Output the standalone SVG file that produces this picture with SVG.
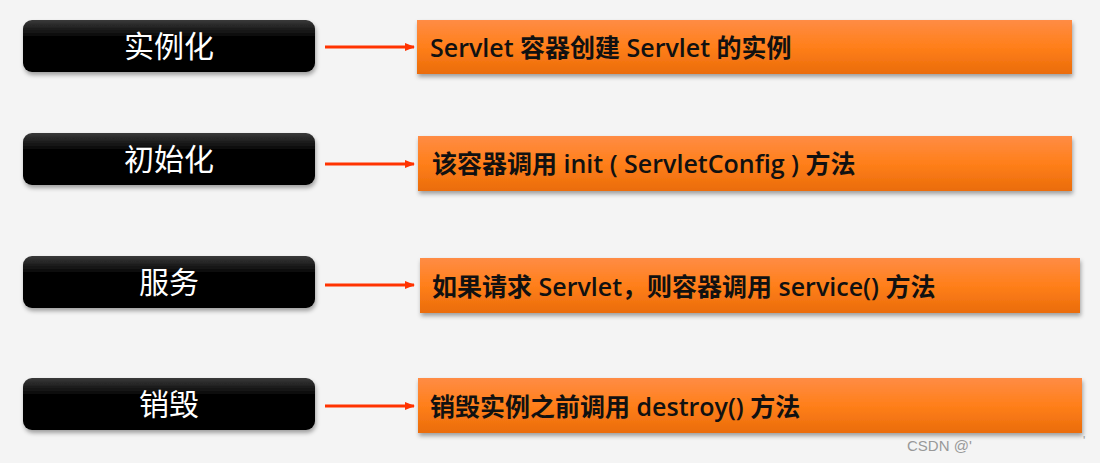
<svg xmlns="http://www.w3.org/2000/svg" width="1100" height="463" viewBox="0 0 1100 463">
<defs>
<linearGradient id="blk" x1="0" y1="0" x2="0" y2="1"><stop offset="0" stop-color="#3a3a3a"/><stop offset="0.35" stop-color="#000"/><stop offset="1" stop-color="#000"/></linearGradient>
<linearGradient id="org" x1="0" y1="0" x2="0" y2="1"><stop offset="0" stop-color="#ff8c45"/><stop offset="0.5" stop-color="#ff7f1a"/><stop offset="1" stop-color="#ea6c0a"/></linearGradient>
<filter id="sh" x="-5%" y="-20%" width="110%" height="150%"><feDropShadow dx="1" dy="3" stdDeviation="2" flood-color="#000" flood-opacity="0.35"/></filter>
<marker id="ar" markerWidth="10" markerHeight="8" refX="9" refY="4" orient="auto" markerUnits="userSpaceOnUse"><path d="M0,0 L10,4 L0,8 Z" fill="#ff3300"/></marker>
</defs>
<style>
.b{fill:url(#blk);filter:url(#sh)}
.o{fill:url(#org);filter:url(#sh)}
.bt{font-family:"Noto Sans CJK SC",sans-serif;font-size:30px;fill:#fff;text-anchor:middle}
.ot{font-family:"Open Sans","Noto Sans CJK SC",sans-serif;font-size:25px;fill:#111;font-weight:600}
.c line{stroke:#ff3300;stroke-width:3;marker-end:url(#ar)}
</style>
<rect width="1100" height="463" fill="#f4f4f4"/>
<g id="n1"><rect class="b" x="23" y="20" width="292" height="52" rx="9"/><text class="bt" x="169" y="57">实例化</text></g>
<g id="n2"><rect class="b" x="23" y="133" width="292" height="52" rx="9"/><text class="bt" x="169" y="170">初始化</text></g>
<g id="n3"><rect class="b" x="23" y="256" width="292" height="52" rx="9"/><text class="bt" x="169" y="293">服务</text></g>
<g id="n4"><rect class="b" x="23" y="378" width="292" height="52" rx="9"/><text class="bt" x="169" y="415">销毁</text></g>
<g id="o1"><rect class="o" x="417" y="20" width="655" height="54"/><text class="ot" x="430" y="57">Servlet 容器创建 Servlet 的实例</text></g>
<g id="o2"><rect class="o" x="418" y="136" width="654" height="55"/><text class="ot" x="432" y="173">该容器调用 init ( ServletConfig ) 方法</text></g>
<g id="o3"><rect class="o" x="420" y="258" width="660" height="55"/><text class="ot" x="432" y="296">如果请求 Servlet，则容器调用 service() 方法</text></g>
<g id="o4"><rect class="o" x="418" y="378" width="664" height="55"/><text class="ot" x="430" y="416">销毁实例之前调用 destroy() 方法</text></g>
<g class="c">
<line x1="325" y1="47" x2="414" y2="47"/>
<line x1="325" y1="164" x2="414" y2="164"/>
<line x1="325" y1="285" x2="414" y2="285"/>
<line x1="325" y1="406" x2="414" y2="406"/>
</g>
<text x="907" y="451" font-family="Liberation Sans,sans-serif" font-size="15" fill="#999">CSDN @'</text>
<text x="1083" y="445" font-family="Liberation Sans,sans-serif" font-size="12" fill="#999">'</text>
</svg>
